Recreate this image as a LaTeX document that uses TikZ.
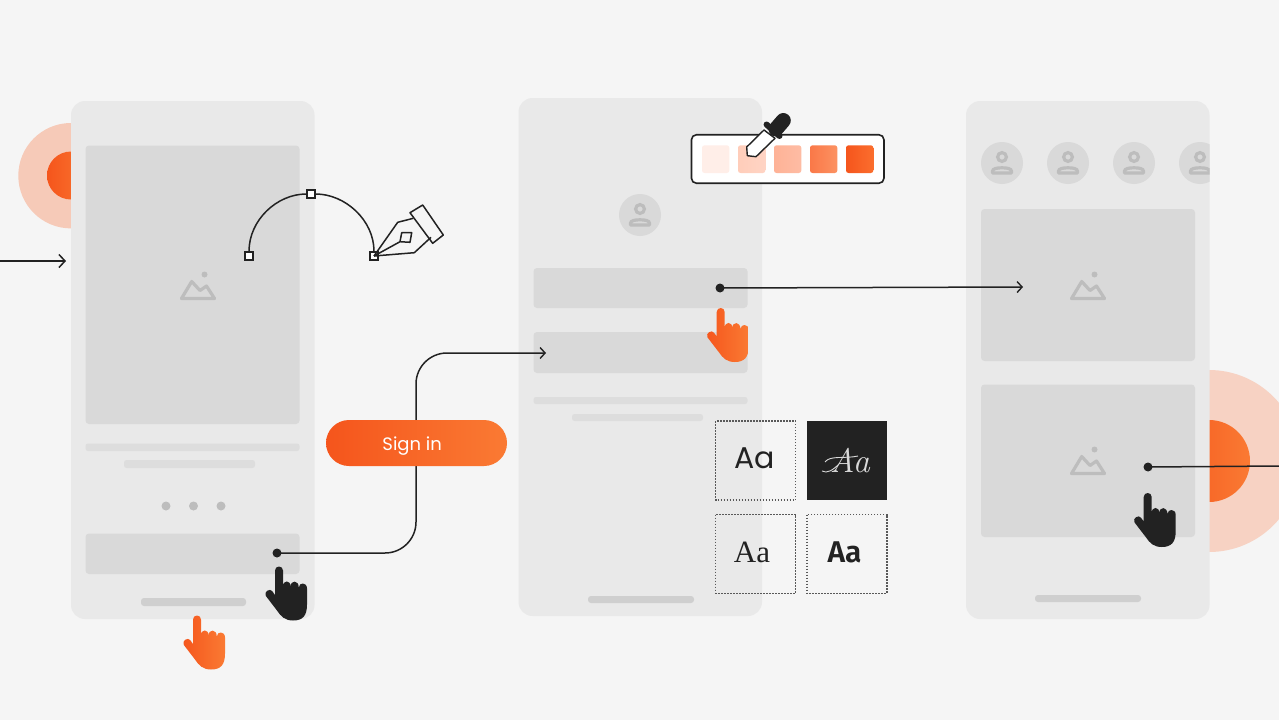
\documentclass[tikz,border=0pt]{standalone}
\usepackage{fontspec}
\setmainfont{Poppins}
\newfontfamily\serifaa{Liberation Serif}
\newfontfamily\boldaa{Fira Sans SemiBold}
\usetikzlibrary{arrows.meta}
\definecolor{pagebg}{HTML}{F5F5F5}
\definecolor{phonebg}{HTML}{E9E9E9}
\definecolor{block}{HTML}{D9D9D9}
\definecolor{strip}{HTML}{DDDDDD}
\definecolor{iconc}{HTML}{BDBDBD}
\definecolor{ink}{HTML}{222222}
\definecolor{hotA}{HTML}{F5551C}
\definecolor{hotB}{HTML}{FA7A33}
\definecolor{halo}{HTML}{F6CAB8}
\tikzset{
  x=1pt,y=-1pt,
  phone/.style={fill=phonebg,rounded corners=14pt},
  blockbox/.style={fill=block,rounded corners=3.5pt},
  stripbar/.style={fill=strip,rounded corners=2.5pt},
  homebar/.style={fill={rgb,255:red,207;green,207;blue,207},rounded corners=3pt},
  conn/.style={draw=ink,line width=1.5pt,-{Straight Barb[length=5pt,width=11pt,line width=1.4pt]}},
  plainconn/.style={draw=ink,line width=1.5pt},
  dotnode/.style={circle,fill=ink,minimum size=9pt,inner sep=0pt},
  handle/.style={draw=ink,fill=white,line width=1.4pt,minimum size=8pt,inner sep=0pt},
  penline/.style={draw=ink,line width=1.5pt,line join=round},
  swatch/.style={rounded corners=2.5pt},
  fontbox/.style={draw=black!65,line width=1.5pt,dash pattern=on 1.5pt off 1.5pt},
  orangehand/.style={left color=hotA,right color=hotB},
  darkhand/.style={fill=ink},
  icon/.style={draw=iconc,line width=3.2pt,line join=round},
}
\newcommand\drawhand[3]{%
  \path[#1,shift={(#2,#3)}]
    (-4,4) .. controls (-4,-1.3) and (4,-1.3) .. (4,4)
    -- (4,20) .. controls (4,13.3) and (11.6,13.3) .. (11.6,20)
    .. controls (11.8,13.3) and (19.6,13.3) .. (19.8,21)
    .. controls (20,15.5) and (28,15.5) .. (28,22)
    -- (28,38) .. controls (28,49) and (24,54) .. (14,54)
    .. controls (6,54) and (2,50) .. (-2,44)
    -- (-13.2,29.4) .. controls (-15.5,25) and (-9,21.5) .. (-6.8,24.6)
    -- (-4,28.5) -- cycle;}
\newcommand\mountain[2]{%
  \begin{scope}[shift={(#1,#2)}]
    \fill[iconc] (6.5,-12.5) circle[radius=3pt];
    \draw[icon] (-16.5,11.5) -- (-6.3,-5.5) -- (2,3.5) -- (8.5,-1) -- (16.5,11.5) -- cycle;
  \end{scope}}
\newcommand\avatar[2]{%
  \begin{scope}[shift={(#1,#2)}]
    \fill[block] (0,0) circle[radius=21pt];
    \draw[draw=iconc,line width=3.2pt] (0,-6) circle[radius=4.4pt];
    \draw[icon] (-9.6,10) -- (9.6,10) -- (9.6,8.5)
      .. controls (9.6,5.5) and (5,4.8) .. (0,4.8)
      .. controls (-5,4.8) and (-9.6,5.5) .. (-9.6,8.5) -- cycle;
  \end{scope}}
\begin{document}
\begin{tikzpicture}
\useasboundingbox (0,0) rectangle (1279,720);
\fill[pagebg] (0,0) rectangle (1279,720);
% halos
\fill[halo] (71,175.7) circle[radius=52.7pt];
\shade[left color=hotA,right color=hotB] (71,175.5) circle[radius=24pt];
\fill[halo!85!white] (1209,461) circle[radius=91pt];
\shade[left color=hotA!90!hotB,right color=hotB] (1209,461) circle[radius=41pt];
% phones
\fill[phone] (71,101) rectangle (314.5,619);
\fill[phone] (518.5,98) rectangle (762,616);
\fill[phone] (966,101) rectangle (1209.5,619);
% phone 1
\fill[blockbox] (85.5,145.5) rectangle (299.5,424);
\mountain{198}{287}
\fill[stripbar] (85.5,443.5) rectangle (299.5,451);
\fill[stripbar] (124,460) rectangle (255,468);
\foreach \cx in {166,193.5,221} \fill[iconc] (\cx,506) circle[radius=4.5pt];
\fill[blockbox] (85.5,533.5) rectangle (299.5,574);
\fill[homebar] (141,598) rectangle (246,606);
% phone 2
\avatar{640}{215}
\fill[blockbox] (533.5,268) rectangle (747.5,308);
\fill[blockbox] (533.5,332) rectangle (747.5,373);
\fill[stripbar] (533.5,397) rectangle (747.5,404);
\fill[stripbar] (572,414) rectangle (703,421);
\fill[homebar] (588,596) rectangle (694,603);
% phone 3
\begin{scope}
  \clip (966,101) rectangle (1209.5,619);
  \foreach \cx in {1002,1068,1134,1200} {\avatar{\cx}{163}}
\end{scope}
\fill[blockbox] (981,209) rectangle (1195,361);
\mountain{1088}{287}
\fill[blockbox] (981,384.5) rectangle (1195,537);
\mountain{1088}{462}
\fill[homebar] (1035,595) rectangle (1141,602);
% connectors
\coordinate (startL) at (0,261);
\coordinate (endL) at (66,261);
\draw[conn,-{Straight Barb[length=6pt,width=13pt,line width=1.5pt]}] (startL) -- (endL);
\node[dotnode] (dotA) at (277,553) {};
\coordinate (bendA) at (416,553);
\coordinate (bendB) at (416,353);
\coordinate (endA) at (546,353);
\draw[conn,rounded corners=31pt] (dotA.center) -- (bendA) -- (bendB) -- (endA);
\node[dotnode] (dotB) at (720,288) {};
\coordinate (endB) at (1023,287);
\draw[conn] (dotB.center) -- (endB);
\node[dotnode] (dotC) at (1148,467) {};
\coordinate (endC) at (1279,466);
\draw[plainconn] (dotC.center) -- (endC);
% sign in
\node[left color=hotA,right color=hotB,rounded corners=23pt,minimum width=181pt,minimum height=46pt,inner sep=0pt] (signin) at (416.5,443) {};
\node[anchor=base,inner sep=0pt,text=white,font=\fontsize{18}{20}\selectfont] (signlabel) at (412.2,450) {Sign in};
% hands
\drawhand{orangehand}{720.7}{308}
\drawhand{orangehand}{197}{615.5}
\drawhand{darkhand}{279}{566.5}
\drawhand{darkhand}{1147.7}{493}
% pen curve
\node[handle] (hA) at (249,256) {};
\node[handle] (hB) at (311,194) {};
\node[handle] (hC) at (374,256) {};
\draw[penline] (hA.north) .. controls (249,220) and (277,194) .. (hB.west);
\draw[penline] (hB.east) .. controls (345,194) and (374,220) .. (hC.north);
% nib
\draw[penline] (hC.center) -- (397.7,222.3) -- (413.3,218.3);
\draw[penline] (hC.center) -- (414.3,252.7) -- (431,237.3);
\draw[penline] (hC.center) -- (400,241.7);
\draw[penline] (400,241.7) -- (401.7,232.7) -- (411.7,232.7) -- (410,242.3) -- cycle;
\draw[penline] (410,212.7) -- (422.7,205) -- (443.3,235) -- (432.7,243.3) -- cycle;
% swatches
\node[draw=ink,fill=white,line width=1.6pt,rounded corners=5pt,minimum width=192.5pt,minimum height=48.5pt,inner sep=0pt] (panel) at (787.7,159) {};
\fill[swatch,fill={rgb,255:red,255;green,238;blue,232}] (702,145.3) rectangle (729.3,173);
\shade[swatch,left color={rgb,255:red,255;green,205;blue,186},right color={rgb,255:red,255;green,212;blue,196}] (738,145.3) rectangle (765.3,173);
\shade[swatch,left color={rgb,255:red,254;green,178;blue,150},right color={rgb,255:red,254;green,188;blue,164}] (774,145.3) rectangle (801.3,173);
\shade[swatch,left color={rgb,255:red,250;green,120;blue,72},right color={rgb,255:red,252;green,146;blue,98}] (810,145.3) rectangle (837.3,173);
\shade[swatch,left color=hotA,right color={rgb,255:red,251;green,110;blue,46}] (846,145.3) rectangle (873.3,173);
% dropper
\draw[draw=ink,fill=white,line width=1.4pt,line join=round] (746.7,147) -- (747.3,155.7) -- (756,156.7) -- (775,138.3) -- (764,130) -- cycle;
\draw[ink,line width=6pt,line cap=round] (766.5,124.5) -- (779.5,136);
\draw[ink,line width=15pt,line cap=round] (776,129) -- (783.3,120.5);
% font boxes
\draw[fontbox] (715.7,421) rectangle (795.7,500);
\node[font=\fontsize{30}{32}\selectfont,text=ink,inner sep=0pt] (fa) at (754.5,458) {Aa};
\fill[ink] (807,421) rectangle (887,500);
\node[font=\fontspec{Latin Modern Roman}\fontsize{34}{36}\selectfont,text=white!85!black,inner sep=0pt] (fb) at (850,461) {\textit{Aa}};
\draw[white!85!black,line width=.9pt] (822,471) .. controls (827,474) and (833,470) .. (839,464);
\draw[white!85!black,line width=.9pt] (825,462) .. controls (830,455) and (845,459) .. (858,456);
\draw[fontbox] (715.7,514.7) rectangle (795.7,593.3);
\node[font=\serifaa\fontsize{31}{33}\selectfont,text=ink,inner sep=0pt] (fc) at (752,552) {Aa};
\draw[fontbox] (807,514.7) rectangle (887,593.3);
\node[font=\boldaa\fontsize{30}{32}\selectfont,text=ink,inner sep=0pt] (fd) at (844.5,552) {Aa};
\end{tikzpicture}
\end{document}
